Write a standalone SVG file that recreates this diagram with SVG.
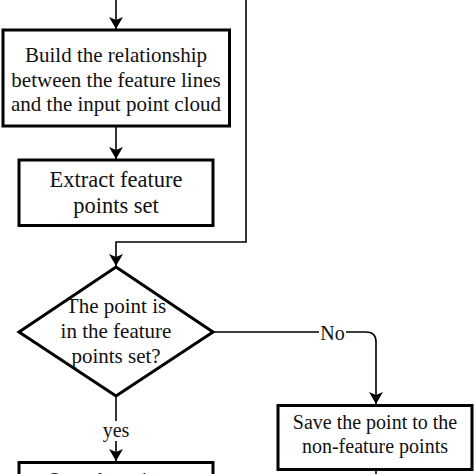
<svg xmlns="http://www.w3.org/2000/svg" width="474" height="474" viewBox="0 0 474 474">
<style>
.box{fill:#fff;stroke:#000;stroke-width:3}
.ln{fill:none;stroke:#000;stroke-width:1.6}
text{font-family:"Liberation Serif","Times New Roman",serif;fill:#111;text-anchor:middle}
.lbl{fill:#fff;stroke:none}
</style>
<defs>
<marker id="arr" viewBox="0 0 12 14" refX="12" refY="7" markerWidth="12" markerHeight="14" markerUnits="userSpaceOnUse" orient="auto">
<path d="M0,0 L12,7 L0,14 L3,7 Z" fill="#000"/>
</marker>
</defs>
<rect width="474" height="474" fill="#fff"/>
<g id="connectors">
<path class="ln" d="M116,0 V29" marker-end="url(#arr)"/>
<path class="ln" d="M246,0 V242 H116 V266" marker-end="url(#arr)"/>
<path class="ln" d="M116,127 V159" marker-end="url(#arr)"/>
<path class="ln" d="M214,332 H366 Q376,332 376,342 V404" marker-end="url(#arr)"/>
<path class="ln" d="M116,397 V461" marker-end="url(#arr)"/>
<path class="ln" d="M376,471 V474"/>
<rect class="lbl" x="319" y="322" width="27" height="20"/>
<text x="332.5" y="339.5" font-size="20">No</text>
<rect class="lbl" x="102" y="421" width="28" height="20"/>
<text x="116" y="437" font-size="20">yes</text>
</g>
<g id="build">
<rect class="box" x="3" y="30" width="226.5" height="96"/>
<text x="116" y="62" font-size="21">Build the relationship</text>
<text x="116" y="86.5" font-size="21">between the feature lines</text>
<text x="116" y="111" font-size="21">and the input point cloud</text>
</g>
<g id="extract">
<rect class="box" x="19" y="160" width="194" height="65.5"/>
<text x="116" y="186.5" font-size="22.5">Extract feature</text>
<text x="116" y="212.5" font-size="22.5">points set</text>
</g>
<g id="decision">
<polygon class="box" points="116,267 213,332 116,396 19,332"/>
<text x="116" y="312.5" font-size="21">The point is</text>
<text x="116" y="337.5" font-size="21">in the feature</text>
<text x="116" y="363" font-size="21">points set?</text>
</g>
<g id="nonfeature">
<rect class="box" x="278" y="405.5" width="194" height="64"/>
<text x="375" y="429.3" font-size="20">Save the point to the</text>
<text x="375" y="453.3" font-size="20">non-feature points</text>
</g>
<g id="feature">
<rect class="box" x="19" y="462.5" width="194" height="40"/>
<text x="116" y="486.5" font-size="20">Save the point to</text>
</g>
</svg>
